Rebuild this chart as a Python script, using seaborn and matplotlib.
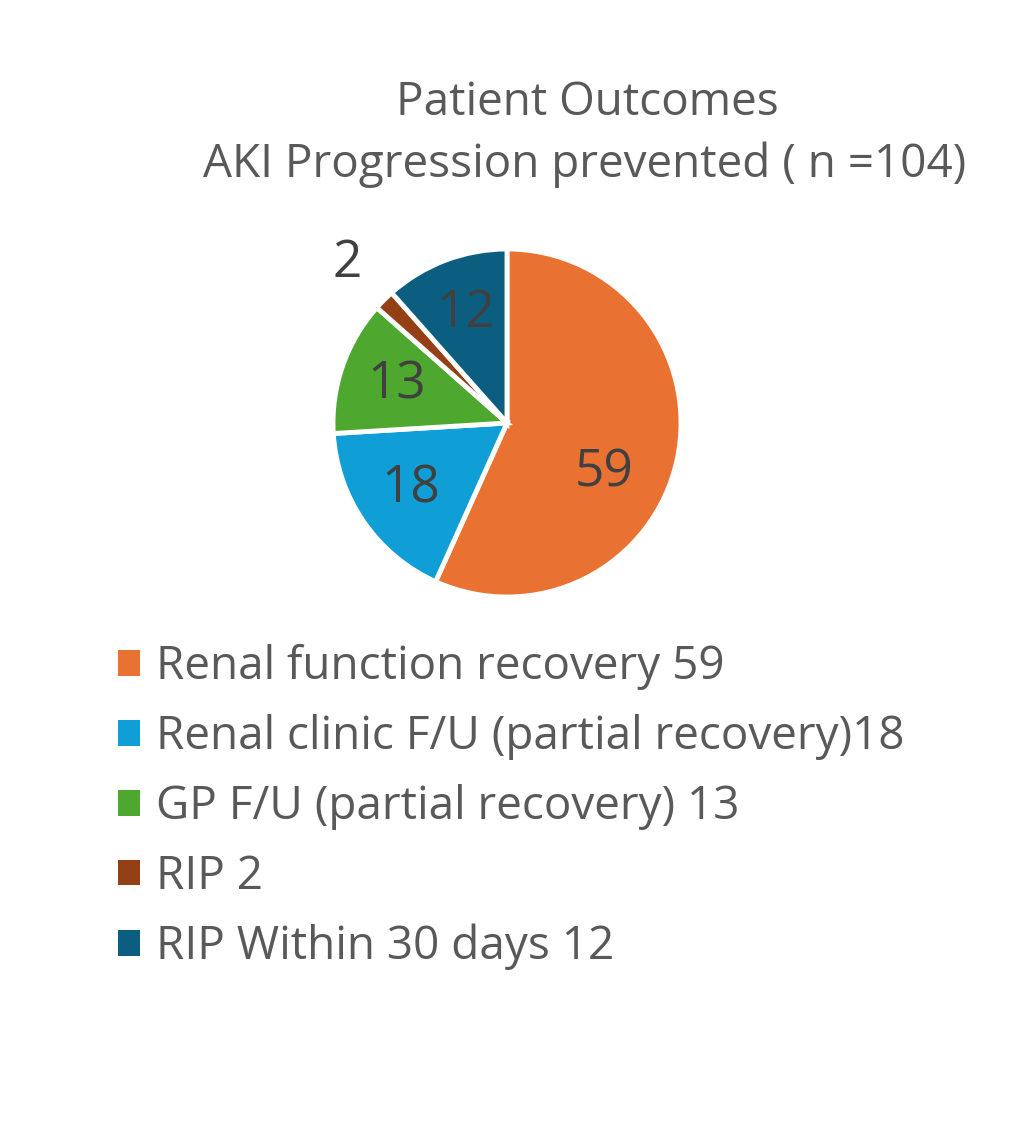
import matplotlib
matplotlib.use("Agg")
import numpy as np
import seaborn as sns
import matplotlib.pyplot as plt
from matplotlib.patches import Patch

# data
outcomes = [
    "Renal function recovery 59",
    "Renal clinic F/U (partial recovery)18",
    "GP F/U (partial recovery) 13",
    "RIP 2",
    "RIP Within 30 days 12",
]
counts = [59, 18, 13, 2, 12]
slice_colors = ["#E97132", "#0F9ED5", "#4EA72E", "#953F14", "#0B5E80"]
title_lines = ["Patient Outcomes", "AKI Progression prevented ( n =104)"]

sns.set_theme(style="white")
plt.rcParams["font.family"] = ["Open Sans", "DejaVu Sans"]
palette = sns.color_palette(slice_colors)

W, H = 1014, 1144
fig = plt.figure(figsize=(W / 100, H / 100), dpi=100)
fig.patch.set_facecolor("white")

# pie axes placed by pixel centre / radius
cx, cy, r = 507, 423, 174
ax = fig.add_axes([(cx - r) / W, 1 - (cy + r) / H, 2 * r / W, 2 * r / H])
wedges, _ = ax.pie(
    counts,
    colors=palette,
    startangle=90,
    counterclock=False,
    radius=1.0,
    wedgeprops=dict(edgecolor="white", linewidth=3.5),
)
ax.set_xlim(-1, 1)
ax.set_ylim(-1, 1)
ax.set_aspect("equal")
ax.axis("off")

# value labels (big slice label sits a bit lower, like Excel best fit)
for i, (w, v) in enumerate(zip(wedges, counts)):
    mid = (w.theta1 + w.theta2) / 2
    dist = 0.67
    if v < 5:
        dist = 1.30
    elif i == 0:
        mid -= 15
        dist = 0.63
    ang = np.deg2rad(mid)
    ax.text(dist * np.cos(ang), dist * np.sin(ang), str(v),
            ha="center", va="center", fontsize=37, color="#404040")

# title
fig.text(587 / W, 1 - 103 / H, title_lines[0], ha="center", va="center",
         fontsize=33, color="#595959")
fig.text(585 / W, 1 - 165 / H, title_lines[1], ha="center", va="center",
         fontsize=33, color="#595959")

# legend
handles = [Patch(facecolor=c, edgecolor="none") for c in palette]
leg = fig.legend(
    handles, outcomes,
    loc="upper left",
    bbox_to_anchor=(100 / W, 1 - 626 / H),
    frameon=False,
    fontsize=33,
    handlelength=0.48,
    handleheight=0.48,
    handletextpad=0.35,
    labelspacing=0.52,
    borderaxespad=0,
)
for t in leg.get_texts():
    t.set_color("#595959")

fig.savefig("out.png", dpi=100, facecolor="white")
